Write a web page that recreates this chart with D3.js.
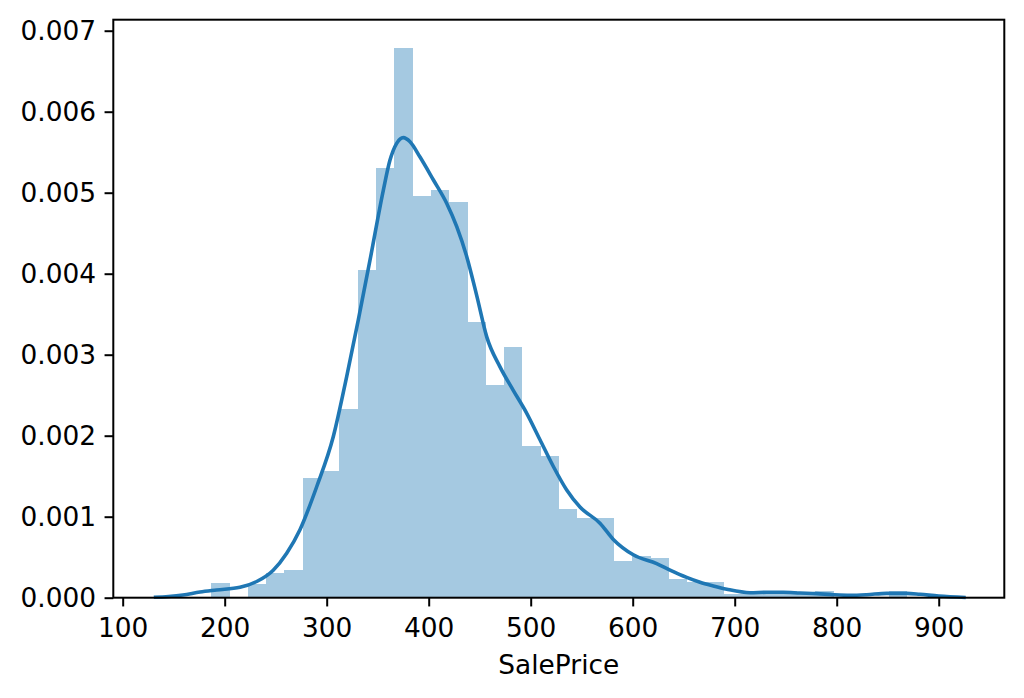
<!DOCTYPE html>
<html>
<head>
<meta charset="utf-8">
<title>SalePrice distribution</title>
<script src="https://cdn.jsdelivr.net/npm/d3@7"></script>
<style>
  body { margin: 0; background: #fff; }
  text { font-family: "DejaVu Sans", sans-serif; fill: #000; }
</style>
</head>
<body>
<div id="chart"></div>
<script>
// histogram bins (sqrt of sale price), density per bin
var binStart = 186.8;
var binWidth = 17.95;
var binDensity = [
  0.00018, 0, 0.00017, 0.00030, 0.00034, 0.00148, 0.00156, 0.00233,
  0.00404, 0.00530, 0.00679, 0.00496, 0.00503, 0.00489, 0.00340, 0.00263,
  0.00309, 0.00187, 0.00175, 0.00110, 0.00098, 0.00099, 0.00045, 0.00052,
  0.00049, 0.00023, 0.00019, 0.00020, 0.00004, 0.00004, 0.00004, 0.00008,
  0.00004, 0.00008, 0, 0, 0, 0.00008
];

// kde curve
var kdeX = [130.5, 145, 159, 175.8, 192, 215, 231.4, 247.6, 260.8, 273.8,
  290.2, 306.5, 319.6, 331, 342.5, 355.5, 362, 368.6, 375.1, 381.7,
  391.5, 404.5, 417.6, 427.5, 437.3, 447.1, 456.9, 469.9, 482.9, 496,
  509.1, 522.2, 535.3, 548.3, 567.9, 581, 600.6, 623.5, 636.6, 652.9,
  666, 679, 692.2, 715, 731.4, 747.6, 764, 780.4, 796.7, 813,
  829.4, 849, 868.6, 881.7, 900, 926.5];
var kdeY = [0.000005, 0.000015, 0.000033, 0.00007, 0.000095, 0.000128, 0.0002, 0.00034, 0.00055, 0.00084,
  0.00137, 0.00199, 0.00273, 0.00343, 0.00417, 0.00503, 0.0054, 0.00561, 0.00568, 0.00563,
  0.00544, 0.00516, 0.00487, 0.00458, 0.00421, 0.00373, 0.00322, 0.00285, 0.00256, 0.00228,
  0.00195, 0.00162, 0.00133, 0.00112, 0.00092, 0.00072, 0.00053, 0.00042, 0.00034, 0.00025,
  0.00019, 0.000145, 0.000105, 0.000062, 0.000067, 0.000067, 0.000058, 0.00005, 0.000037, 0.00003,
  0.000037, 0.000054, 0.000054, 0.000042, 0.00002, 0.000003];

var xTicks = [100, 200, 300, 400, 500, 600, 700, 800, 900];
var yTicks = [0, 0.001, 0.002, 0.003, 0.004, 0.005, 0.006, 0.007];
var xLabel = "SalePrice";

var W = 1024, H = 698;
var plotL = 113.3, plotR = 1004.3, plotT = 19.7, plotB = 597.7;
var fontPx = "26.4px";

var svg = d3.select("#chart").append("svg")
  .attr("width", W)
  .attr("height", H);

var x = d3.scaleLinear().domain([90.8, 964.3]).range([plotL, plotR]);
var y = d3.scaleLinear().domain([0, 0.007136]).range([plotB, plotT]);

var bins = binDensity.map(function(d, i) {
  return { x0: binStart + i * binWidth, x1: binStart + (i + 1) * binWidth, v: d };
});

svg.append("g")
  .attr("shape-rendering", "crispEdges")
  .selectAll("rect")
  .data(bins.filter(function(d) { return d.v > 0; }))
  .enter()
  .append("rect")
  .attr("x", function(d) { return x(d.x0); })
  .attr("width", function(d) { return x(d.x1) - x(d.x0); })
  .attr("y", function(d) { return y(d.v); })
  .attr("height", function(d) { return y(0) - y(d.v); })
  .attr("fill", "#1f77b4")
  .attr("fill-opacity", 0.4);

var line = d3.line()
  .x(function(d) { return x(d[0]); })
  .y(function(d) { return y(d[1]); })
  .curve(d3.curveMonotoneX);

svg.append("path")
  .datum(d3.zip(kdeX, kdeY))
  .attr("d", line)
  .attr("fill", "none")
  .attr("stroke", "#1f77b4")
  .attr("stroke-width", 3.6)
  .attr("stroke-linejoin", "round");

// axes
var xAxis = svg.append("g")
  .attr("transform", "translate(0," + plotB + ")")
  .call(d3.axisBottom(x).tickValues(xTicks).tickSize(8.75).tickPadding(12.3).tickFormat(d3.format("d")));
var yAxis = svg.append("g")
  .attr("transform", "translate(" + plotL + ",0)")
  .call(d3.axisLeft(y).tickValues(yTicks).tickSize(8.75).tickPadding(8.5).tickFormat(d3.format(".3f")));

[xAxis, yAxis].forEach(function(g) {
  g.select(".domain").remove();
  g.selectAll(".tick line").attr("stroke", "#000").attr("stroke-width", 2);
  g.selectAll(".tick text")
    .attr("fill", "#000")
    .style("font-size", fontPx)
    .style("font-family", "DejaVu Sans, sans-serif");
});

svg.append("rect")
  .attr("x", plotL)
  .attr("y", plotT)
  .attr("width", plotR - plotL)
  .attr("height", plotB - plotT)
  .attr("fill", "none")
  .attr("stroke", "#000")
  .attr("stroke-width", 2);

svg.append("text")
  .attr("x", (plotL + plotR) / 2)
  .attr("y", 673.5)
  .attr("text-anchor", "middle")
  .style("font-size", fontPx)
  .text(xLabel);
</script>
</body>
</html>
